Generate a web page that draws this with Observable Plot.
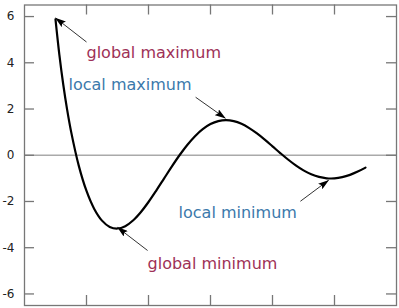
<!DOCTYPE html>
<html><head><meta charset="utf-8">
<script src="https://cdn.jsdelivr.net/npm/d3@7"></script>
<script src="https://cdn.jsdelivr.net/npm/@observablehq/plot@0.6"></script>
<style>body{margin:0;background:#fff} svg{display:block}</style>
</head><body><div id="chart"></div>
<script>
// curve samples
const xs = [0.1,0.1125,0.125,0.1375,0.15,0.175,0.2,0.225,0.25,0.275,0.3,0.325,0.35,0.375,0.4,0.425,0.45,0.475,0.5,0.525,0.55,0.575,0.6,0.625,0.65,0.675,0.7,0.725,0.75,0.775,0.8,0.825,0.85,0.875,0.9,0.925,0.95,0.975,1.0,1.025,1.05,1.075,1.1];
const ys = [5.878,4.343,3.061,1.974,1.043,-0.448,-1.545,-2.322,-2.828,-3.100,-3.170,-3.067,-2.822,-2.464,-2.023,-1.528,-1.009,-0.491,0,0.445,0.826,1.129,1.348,1.478,1.520,1.477,1.359,1.176,0.943,0.674,0.386,0.095,-0.184,-0.437,-0.653,-0.822,-0.938,-0.997,-1.0,-0.949,-0.849,-0.707,-0.534];
const yTicks = [-6,-4,-2,0,2,4,6];
const xTicks = [0.2,0.4,0.6,0.8,1.0];
const labels = ["global maximum","local maximum","local minimum","global minimum"];
const labelKind = ["global","local","local","global"];
const labelX = [0.2,0.142,0.497,0.397];
const labelY = [4.42,3.03,-2.51,-4.72];
const arrowX1 = [0.2,0.552,0.89,0.397];
const arrowY1 = [4.9,2.51,-1.99,-4.12];
const arrowX2 = [0.1,0.648,0.981,0.3];
const arrowY2 = [5.94,1.60,-1.08,-3.12];

const curve = xs.map((x,i)=>({x, y: ys[i]}));
const notes = labels.map((t,i)=>({t, kind: labelKind[i], x: labelX[i], y: labelY[i]}));
const arrows = arrowX1.map((x1,i)=>({x1, y1: arrowY1[i], x2: arrowX2[i], y2: arrowY2[i]}));

const W = 399, H = 308, mL = 24, mR = 3, mT = 4.5, mB = 3;
const tickLen = 10;
const innerW = W - mL - mR, innerH = H - mT - mB;

const chart = Plot.plot({
  width: W, height: H,
  marginLeft: mL, marginRight: mR, marginTop: mT, marginBottom: mB,
  style: {fontFamily: "DejaVu Sans", background: "#fff"},
  x: {domain: [0, 1.2], axis: null},
  y: {domain: [-6.5, 6.5]},
  color: {domain: ["global","local"], range: ["#9e3157","#3b79ab"]},
  marks: [
    Plot.ruleY([0], {stroke: "#aaa", strokeWidth: 1.3}),
    Plot.tickY(yTicks, {y: d=>d, insetRight: innerW - tickLen, stroke: "#777", strokeWidth: 1.3}),
    Plot.tickY(yTicks, {y: d=>d, insetLeft: innerW - tickLen, stroke: "#777", strokeWidth: 1.3}),
    Plot.tickX(xTicks, {x: d=>d, insetBottom: innerH - tickLen, stroke: "#777", strokeWidth: 1.3}),
    Plot.tickX(xTicks, {x: d=>d, insetTop: innerH - tickLen, stroke: "#777", strokeWidth: 1.3}),
    Plot.axisY(yTicks, {tickSize: 0, tickPadding: 10, fontSize: 12, fill: "#222", tickFormat: d => String(d)}),
    Plot.frame({stroke: "#777", strokeWidth: 1.3}),
    Plot.line(curve, {x: "x", y: "y", curve: "catmull-rom", stroke: "#000", strokeWidth: 2.2}),
    Plot.link(arrows, {x1: "x1", y1: "y1", x2: "x2", y2: "y2", stroke: "#333", strokeWidth: 1}),
    Plot.text(notes, {x: "x", y: "y", text: "t", fill: d => d.kind, textAnchor: "start", fontSize: 16})
  ]
});
document.getElementById("chart").appendChild(chart);

const svg = d3.select(chart);
const m = svg.append("defs").append("marker")
  .attr("id","ahead").attr("viewBox","0 0 11 7").attr("refX",10.5).attr("refY",3.5)
  .attr("markerWidth",11).attr("markerHeight",7).attr("markerUnits","userSpaceOnUse").attr("orient","auto");
m.append("path").attr("d","M0,0L11,3.5L0,7L2,3.5Z").attr("fill","#000");
svg.selectAll("g[aria-label=link] path").attr("marker-end","url(#ahead)");
</script>
</body></html>
